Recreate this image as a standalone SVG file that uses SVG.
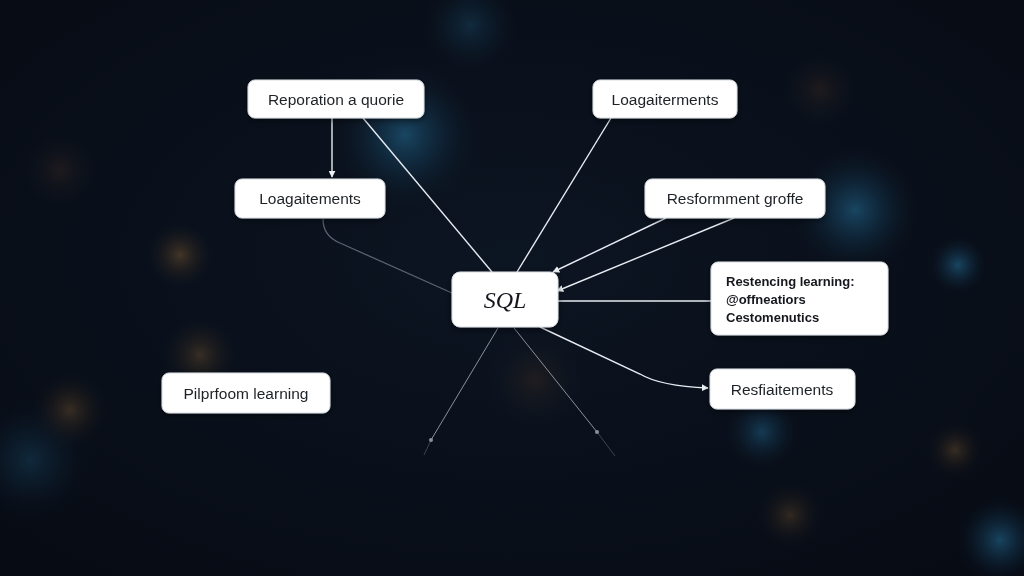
<svg xmlns="http://www.w3.org/2000/svg" width="1024" height="576" viewBox="0 0 1024 576">
  <defs>
    <style>
      .box { fill: #ffffff; stroke: #d8dde4; stroke-width: 1; }
      .lbl { font-family: "Liberation Sans", Arial, sans-serif; font-size: 15.5px; fill: #1e2126; text-anchor: middle; }
      .lbl2 { font-family: "Liberation Sans", Arial, sans-serif; font-size: 13px; font-weight: bold; fill: #15181d; }
      .sql { font-family: "Liberation Serif", "Times New Roman", serif; font-size: 24px; font-style: italic; fill: #15181d; text-anchor: middle; }
      .edge { fill: none; stroke: #e8ecf2; stroke-width: 1.4; }
      .dim { fill: none; stroke: #5a6270; stroke-width: 1.3; }
      .thin { fill: none; stroke: #8a919c; stroke-width: 1; }
    </style>
    <marker id="arr" viewBox="0 0 10 10" refX="9" refY="5" markerWidth="7" markerHeight="7" orient="auto" markerUnits="userSpaceOnUse">
      <path d="M0,0 L10,5 L0,10 z" fill="#eef1f5"/>
    </marker>
    <radialGradient id="bg" cx="50%" cy="45%" r="70%">
      <stop offset="0" stop-color="#0c1522"/>
      <stop offset="1" stop-color="#070b14"/>
    </radialGradient>
    <radialGradient id="gb">
      <stop offset="0" stop-color="#1f5d80" stop-opacity="0.7"/>
      <stop offset="0.5" stop-color="#174563" stop-opacity="0.3"/>
      <stop offset="1" stop-color="#0c1522" stop-opacity="0"/>
    </radialGradient>
    <radialGradient id="go">
      <stop offset="0" stop-color="#6a4e2e" stop-opacity="0.6"/>
      <stop offset="0.5" stop-color="#3e3022" stop-opacity="0.3"/>
      <stop offset="1" stop-color="#0c1522" stop-opacity="0"/>
    </radialGradient>
    <radialGradient id="gd">
      <stop offset="0" stop-color="#3a2a22" stop-opacity="0.45"/>
      <stop offset="1" stop-color="#0c1522" stop-opacity="0"/>
    </radialGradient>
    <filter id="sh" x="-20%" y="-20%" width="140%" height="160%">
      <feDropShadow dx="0" dy="2" stdDeviation="3" flood-color="#000" flood-opacity="0.5"/>
    </filter>
  </defs>

  <rect width="1024" height="576" fill="url(#bg)"/>
  <g id="bokeh">
    <circle cx="405" cy="135" r="75" fill="url(#gb)"/>
    <circle cx="855" cy="210" r="65" fill="url(#gb)"/>
    <circle cx="958" cy="265" r="30" fill="url(#gb)"/>
    <circle cx="1000" cy="540" r="45" fill="url(#gb)"/>
    <circle cx="762" cy="432" r="38" fill="url(#gb)" opacity="0.8"/>
    <circle cx="470" cy="25" r="50" fill="url(#gb)" opacity="0.5"/>
    <circle cx="30" cy="460" r="65" fill="url(#gb)" opacity="0.5"/>
    <circle cx="180" cy="255" r="35" fill="url(#go)"/>
    <circle cx="200" cy="355" r="40" fill="url(#go)" opacity="0.8"/>
    <circle cx="70" cy="410" r="40" fill="url(#go)" opacity="0.8"/>
    <circle cx="955" cy="450" r="30" fill="url(#go)" opacity="0.8"/>
    <circle cx="790" cy="515" r="35" fill="url(#go)" opacity="0.7"/>
    <circle cx="820" cy="90" r="40" fill="url(#gd)"/>
    <circle cx="535" cy="380" r="55" fill="url(#gd)"/>
    <circle cx="60" cy="170" r="40" fill="url(#gd)"/>
  </g>

  <g id="connectors">
    <path class="edge" d="M332,118 L332,177" marker-end="url(#arr)"/>
    <path class="edge" d="M363,118 L492,272"/>
    <path class="edge" d="M611,118 L517,272"/>
    <path class="dim" d="M323,219 Q323,236 340,243 L452,293"/>
    <path class="edge" d="M666,218 L553,272" marker-end="url(#arr)"/>
    <path class="edge" d="M734,218 L557,291" marker-end="url(#arr)"/>
    <path class="edge" d="M711,301 L558,301"/>
    <path class="edge" d="M540,327 L640,374 Q660,386 708,388" marker-end="url(#arr)"/>
    <path class="thin" d="M498,328 L431,440"/>
    <path class="thin" d="M431,440 L424,455" opacity="0.4"/>
    <path class="thin" d="M514,328 L597,432"/>
    <path class="thin" d="M597,432 L615,456" opacity="0.4"/>
    <circle cx="431" cy="440" r="2" fill="#8a919c"/>
    <circle cx="597" cy="432" r="2" fill="#8a919c"/>
  </g>

  <g id="n-reporation" filter="url(#sh)">
    <rect class="box" x="248" y="80" width="176" height="38" rx="7"/>
    <text class="lbl" x="336" y="105">Reporation a quorie</text>
  </g>
  <g id="n-loag-left" filter="url(#sh)">
    <rect class="box" x="235" y="179" width="150" height="39" rx="7"/>
    <text class="lbl" x="310" y="204">Loagaitements</text>
  </g>
  <g id="n-loag-right" filter="url(#sh)">
    <rect class="box" x="593" y="80" width="144" height="38" rx="7"/>
    <text class="lbl" x="665" y="105">Loagaiterments</text>
  </g>
  <g id="n-resformment" filter="url(#sh)">
    <rect class="box" x="645" y="179" width="180" height="39" rx="7"/>
    <text class="lbl" x="735" y="204">Resformment groffe</text>
  </g>
  <g id="n-sql" filter="url(#sh)">
    <rect class="box" x="452" y="272" width="106" height="55" rx="8"/>
    <text class="sql" x="505" y="308">SQL</text>
  </g>
  <g id="n-restencing" filter="url(#sh)">
    <rect class="box" x="711" y="262" width="177" height="73" rx="7"/>
    <text class="lbl2" x="726" y="286">Restencing learning:</text>
    <text class="lbl2" x="726" y="304">@offneatiors</text>
    <text class="lbl2" x="726" y="322">Cestomenutics</text>
  </g>
  <g id="n-resflait" filter="url(#sh)">
    <rect class="box" x="710" y="369" width="145" height="40" rx="7"/>
    <text class="lbl" x="782" y="395">Resfiaitements</text>
  </g>
  <g id="n-pilprfoom" filter="url(#sh)">
    <rect class="box" x="162" y="373" width="168" height="40" rx="7"/>
    <text class="lbl" x="246" y="399">Pilprfoom learning</text>
  </g>
</svg>
